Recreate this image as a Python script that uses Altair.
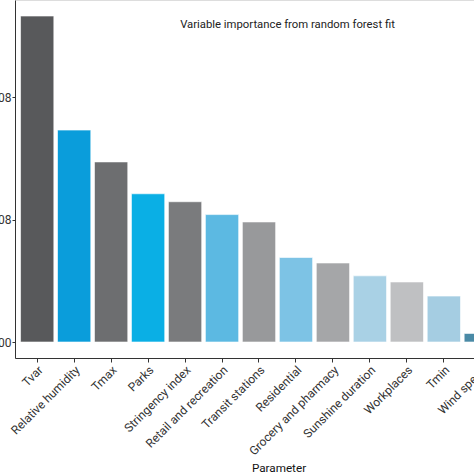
import altair as alt
import pandas as pd

params = ["Tvar", "Relative humidity", "Tmax", "Parks", "Stringency index",
          "Retail and recreation", "Transit stations", "Residential",
          "Grocery and pharmacy", "Sunshine duration", "Workplaces", "Tmin",
          "Wind speed"]
importance = [2.661e8, 1.73e8, 1.47e8, 1.21e8, 1.145e8, 1.04e8, 0.98e8,
              0.69e8, 0.645e8, 0.54e8, 0.49e8, 0.375e8, 0.07e8]
colors = ["#58595b", "#0a9ddb", "#6d6e70", "#0aafe5", "#7a7b7d", "#5cb9e2",
          "#98999b", "#7dc3e5", "#a5a6a8", "#a9d1e5", "#bfc0c2", "#a5cde2",
          "#4a8aa6"]
y_ticks = [0, 1e8, 2e8]
title_text = "Variable importance from random forest fit"

df = pd.DataFrame({"Parameter": params, "Importance": importance})
df["base"] = 0.0

FONT = "Roboto, Liberation Sans, sans-serif"

bars = alt.Chart(df).mark_bar(stroke="white", strokeWidth=0.6).encode(
    x=alt.X("Parameter:N", sort=params,
            scale=alt.Scale(paddingInner=0.1, paddingOuter=0.15),
            axis=alt.Axis(title="Parameter", labelAngle=315, labelAlign="right",
                          labelBaseline="top", labelPadding=2, tickSize=4,
                          labelFontSize=12, labelColor="#333333", labelFont=FONT,
                          titleFont=FONT, titleFontSize=11.7, titleFontWeight="normal",
                          titleColor="#111111", titleX=263.5, titleY=113,
                          titleAlign="center", titleBaseline="alphabetic",
                          domainColor="#333333", tickColor="#333333",
                          labelOverlap=False)),
    y=alt.Y("Importance:Q",
            scale=alt.Scale(domain=[-0.1306e8, 2.792e8], nice=False, zero=False),
            axis=alt.Axis(title=None, values=y_ticks, tickSize=3, labelPadding=1,
                          labelExpr="format(datum.value/1e8, 'd') + 'e+0' + (datum.value == 0 ? '0' : '8')",
                          labelFontSize=12, labelColor="#333333", labelFont=FONT,
                          domainColor="#333333", tickColor="#333333", grid=False)),
    y2="base:Q",
    color=alt.Color("Parameter:N", scale=alt.Scale(domain=params, range=colors), legend=None),
)

title_df = pd.DataFrame({"label": [title_text]})
txt = alt.Chart(title_df).mark_text(font=FONT, fontSize=11.3, color="#222222",
                                    align="center", baseline="middle").encode(
    text="label:N", x=alt.value(272.5), y=alt.value(25))

chart = alt.layer(bars, txt).properties(
    width=488, height=358,
    autosize=alt.AutoSizeParams(type="none"),
    padding={"left": 15, "top": 0, "right": -29, "bottom": 116},
).configure_view(stroke=None).configure(background="white")

chart.save("out.html", embed_options={"renderer": "svg", "actions": False})
